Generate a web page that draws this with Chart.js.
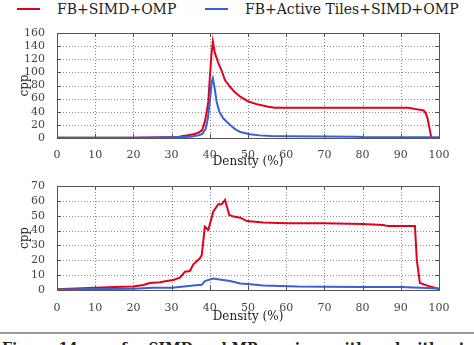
<!DOCTYPE html>
<html lang="en">
  <head>
    <meta charset="UTF-8" />
    <title>cpp vs density</title>
    <style>
      html, body { margin: 0; padding: 0; background: #fff; overflow: hidden; }
      body { width: 474px; height: 345px; position: relative; font-family: "DejaVu Serif", serif; color: #222; }
      .box { position: absolute; left: 0; width: 474px; }
      .key { position: absolute; top: 0; height: 18px; line-height: 18px; font-size: 14px; white-space: nowrap; }
      .key i { position: absolute; top: 8px; height: 2px; width: 23px; }
      .rule { position: absolute; left: 0; top: 332px; width: 474px; height: 2px; background: #999; }
      .caption { position: absolute; left: 2px; top: 340px; font-size: 14px; font-weight: bold; white-space: nowrap; }
    </style>
  </head>
  <body>
    <div class="key" style="left:0;width:190px"><i style="left:17px;background:#e3001b"></i><span style="position:absolute;left:57px">FB+SIMD+OMP</span></div>
    <div class="key" style="left:188px;width:286px"><i style="left:17px;background:#3b5fd6"></i><span style="position:absolute;left:57px">FB+Active Tiles+SIMD+OMP</span></div>

    <div class="box" style="top:20px;height:150px"><canvas id="topChart"></canvas></div>
    <div class="box" style="top:170px;height:160px"><canvas id="bottomChart"></canvas></div>

    <div class="rule"></div>
    <div class="caption">Figure 14: cpp for SIMD and MP versions with and without</div>

    <script src="https://cdn.jsdelivr.net/npm/chart.js@4/dist/chart.umd.min.js"></script>
    <script>
      const seriesNames = ['FB+SIMD+OMP', 'FB+Active Tiles+SIMD+OMP'];

      // upper panel
      const topRedX = [0, 5, 10, 15, 20, 25, 28, 30, 32, 33, 34, 35, 36, 37, 38, 38.7, 39.2, 39.6, 40, 40.4, 40.8, 41.3, 42.2, 43, 44, 45.3, 46.5, 48, 50, 52, 55, 57, 60, 70, 80, 90, 92, 93, 94, 95, 96, 96.5, 97, 97.5, 98];
      const topRedY = [0.5, 0.5, 0.5, 0.5, 0.5, 0.7, 1, 1.2, 2, 3, 4, 5, 6, 8, 12, 25, 40, 55, 91, 125, 147, 130, 115, 104, 88, 78, 70, 63, 56, 52, 48, 46, 46, 46, 46, 46, 46, 45, 44, 43, 42, 38, 30, 15, 0];
      const topBlueX = [0, 10, 20, 30, 33, 35, 36, 37, 38, 38.9, 39.5, 40, 40.5, 40.8, 41.3, 41.8, 42.5, 43.5, 45.3, 46.5, 48, 50.5, 53, 56, 60, 70, 78, 80, 90, 100];
      const topBlueY = [0.3, 0.3, 0.5, 1, 1.5, 2, 3, 4, 6, 14, 30, 55, 85, 91, 75, 55, 40, 30, 20, 14, 9, 5.6, 4, 3, 2.5, 2.2, 2, 1.5, 1.2, 1];

      // lower panel
      const botRedX = [0, 5, 10, 15, 20, 22.6, 24.3, 27, 28.7, 30.4, 32.2, 33.5, 34.8, 35.7, 37.4, 37.9, 38.7, 39.6, 40.9, 42.2, 43.1, 44, 45.1, 46.2, 48, 49.7, 54, 60, 70, 80, 85.4, 86.6, 90, 93.7, 94.2, 95, 97.7, 100];
      const botRedY = [0.5, 1, 1.5, 2, 2.3, 3.4, 4.7, 5.2, 6, 6.7, 8.3, 12.3, 12.8, 17.3, 21.3, 23.5, 42.6, 40.4, 52.7, 57.7, 57.7, 60.6, 50.5, 49.4, 48.7, 46.4, 45.5, 45, 44.9, 44.4, 43.7, 43, 43, 43, 20, 4.7, 2.3, 0.7];
      const botBlueX = [0, 10, 20, 25, 30, 32, 35.7, 37.9, 38.7, 40.9, 42.5, 45.3, 48, 50.6, 54, 63, 70, 80, 90, 100];
      const botBlueY = [0.3, 0.6, 0.8, 1.5, 1.5, 2, 3, 3.5, 6, 7.7, 7, 6, 4.4, 3.8, 3, 2.3, 2.2, 2, 2, 1];

      const xTicks = [0, 10, 20, 30, 40, 50, 60, 70, 80, 90, 100];
      const topYTicks = [0, 20, 40, 60, 80, 100, 120, 140, 160];
      const botYTicks = [0, 10, 20, 30, 40, 50, 60, 70];

      const RED = '#e3001b';
      const BLUE = '#3b5fd6';
      const SERIF = '"DejaVu Serif", serif';
      const pts = (xs, ys) => xs.map((x, i) => ({ x, y: ys[i] }));

      // dotted grid under the lines, frame + inward tick marks on top (gnuplot look)
      function makeFrame(yTicks) {
        return {
          id: 'frame',
          beforeDatasetsDraw(chart) {
            const ctx = chart.ctx, a = chart.chartArea;
            const sx = chart.scales.x, sy = chart.scales.y;
            ctx.save();
            ctx.globalAlpha = 1;
            ctx.globalCompositeOperation = 'source-over';
            ctx.fillStyle = '#888888';
            xTicks.forEach(v => {
              const px = Math.round(sx.getPixelForValue(v));
              for (let y = Math.round(a.top); y < a.bottom; y += 3) ctx.fillRect(px, y, 1, 1);
            });
            yTicks.forEach(v => {
              const py = Math.round(sy.getPixelForValue(v));
              for (let x = Math.round(a.left); x < a.right; x += 3) ctx.fillRect(x, py, 1, 1);
            });
            ctx.restore();
          },
          afterDraw(chart) {
            const ctx = chart.ctx, a = chart.chartArea;
            const sx = chart.scales.x, sy = chart.scales.y;
            ctx.save();
            ctx.globalAlpha = 1;
            ctx.fillStyle = '#555555';
            xTicks.forEach(v => {
              const px = Math.round(sx.getPixelForValue(v));
              ctx.fillRect(px, Math.round(a.bottom) - 4, 1, 4);
              ctx.fillRect(px, Math.round(a.top), 1, 4);
            });
            yTicks.forEach(v => {
              const py = Math.round(sy.getPixelForValue(v));
              ctx.fillRect(Math.round(a.left), py, 4, 1);
              ctx.fillRect(Math.round(a.right) - 4, py, 4, 1);
            });
            ctx.strokeStyle = '#555555';
            ctx.lineWidth = 1;
            ctx.setLineDash([]);
            ctx.strokeRect(Math.round(a.left) + 0.5, Math.round(a.top) + 0.5, Math.round(a.right - a.left), Math.round(a.bottom - a.top));
            ctx.restore();
          }
        };
      }

      function makeChart(id, red, blue, yTicks, pad, xHeight, xPad, titlePad) {
        const yMax = yTicks[yTicks.length - 1];
        return new Chart(document.getElementById(id), {
          type: 'line',
          data: {
            datasets: [
              { label: seriesNames[1], data: blue, borderColor: BLUE, borderWidth: 2, pointRadius: 0 },
              { label: seriesNames[0], data: red, borderColor: RED, borderWidth: 2, pointRadius: 0 }
            ]
          },
          options: {
            responsive: true,
            maintainAspectRatio: false,
            animation: false,
            layout: { padding: { left: 0, right: 35, top: pad, bottom: 0 } },
            plugins: { legend: { display: false }, tooltip: { enabled: false } },
            scales: {
              x: {
                type: 'linear', min: 0, max: 100,
                afterBuildTicks: s => { s.ticks = xTicks.map(v => ({ value: v })); },
                afterFit: s => { s.height = xHeight; },
                ticks: { font: { family: SERIF, size: 11 }, color: '#444', padding: xPad, maxRotation: 0, autoSkip: false },
                grid: { display: false },
                border: { display: false },
                title: { display: true, text: 'Density (%)', font: { family: SERIF, size: 12 }, color: '#222', padding: { top: 0, bottom: titlePad } }
              },
              y: {
                min: 0, max: yMax,
                afterBuildTicks: s => { s.ticks = yTicks.map(v => ({ value: v })); },
                afterFit: s => { s.width = 57; },
                ticks: { font: { family: SERIF, size: 11 }, color: '#444', padding: 4, autoSkip: false },
                grid: { display: false },
                border: { display: false },
                title: { display: true, text: 'cpp', font: { family: SERIF, size: 12 }, color: '#222', padding: { top: 18, bottom: 0 } }
              }
            }
          },
          plugins: [makeFrame(yTicks)]
        });
      }

      makeChart('topChart', pts(topRedX, topRedY), pts(topBlueX, topBlueY), topYTicks, 13, 32, 3, 1);
      makeChart('bottomChart', pts(botRedX, botRedY), pts(botBlueX, botBlueY), botYTicks, 16, 40, 4, 6);
    </script>
  </body>
</html>
